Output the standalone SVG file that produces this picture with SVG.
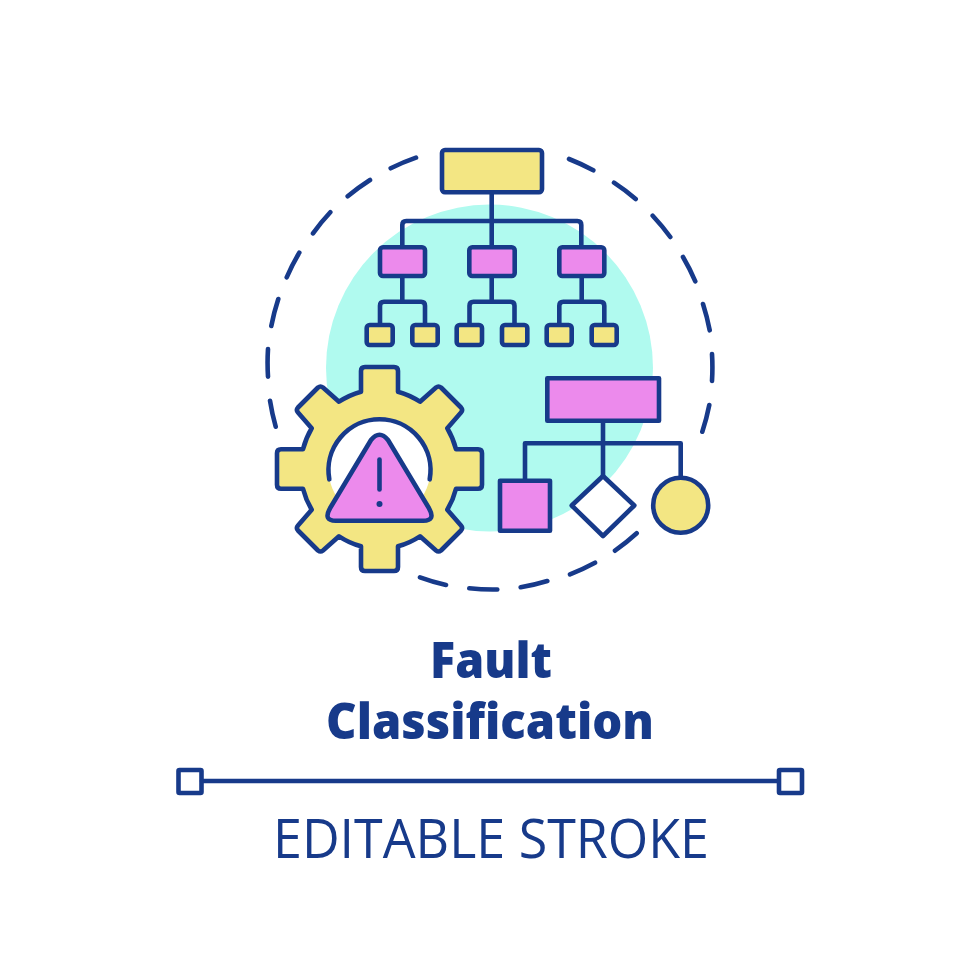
<svg xmlns="http://www.w3.org/2000/svg" width="980" height="980" viewBox="0 0 980 980">
<style>
.s{stroke:#173a8a;stroke-width:4.6;stroke-linejoin:round;stroke-linecap:round;fill:none}
.y{fill:#f3e683}.p{fill:#ec8aec}.w{fill:#fff}
.t{font-family:"Open Sans","Noto Sans",sans-serif;fill:#173a8a;text-anchor:middle}
.b{font-size:50px;font-weight:800}
.r{font-size:55px;font-weight:400}
</style>
<rect width="980" height="980" fill="#fff"/>
<circle id="backdrop" cx="489.5" cy="368" r="163.5" fill="#b0faef"/>
<g id="dashed-ring" class="s">
<path d="M416 157.7A222 222 0 0 0 390.7 168.3M370 180A222 222 0 0 0 347.7 196.3M330.3 212.3A222 222 0 0 0 313 233.3M299.3 252.7A222 222 0 0 0 286.7 277.3M278.3 299A222 222 0 0 0 271.3 326M268 349A222 222 0 0 0 268 376.7M270 400.7A222 222 0 0 0 275.7 426.7"/>
<path d="M569 159A222 222 0 0 1 593.3 170.3M614 182.7A222 222 0 0 1 635.7 199M652.7 215.7A222 222 0 0 1 670.3 237M683 257A222 222 0 0 1 695.3 281.3M703 304A222 222 0 0 1 709.7 330.3M712 354A222 222 0 0 1 712 381M709.3 405A222 222 0 0 1 702.3 431.7"/>
<path d="M420 577.3A222 222 0 0 0 446 585M469.3 588.3A222 222 0 0 0 497.3 589.5M520.7 587.3A222 222 0 0 0 547.3 581M570 574.3A222 222 0 0 0 595 562.7M615 550.7A222 222 0 0 0 636.7 533.3"/>
</g>
<g id="connectors" class="s">
<path d="M491.7 192V247M402.3 247V225Q402.3 221 406.3 221H577.3Q581.3 221 581.3 225V247"/>
<path d="M402.3 276V301.7M380 325V305.7Q380 301.7 384 301.7H421Q425 301.7 425 305.7V325"/>
<path d="M491.7 276V301.7M469.5 325V305.7Q469.5 301.7 473.5 301.7H510.5Q514.5 301.7 514.5 305.7V325"/>
<path d="M581.7 276V301.7M559.3 325V305.7Q559.3 301.7 563.3 301.7H600.3Q604.3 301.7 604.3 305.7V325"/>
<path d="M603 420.7V476M525 480.7V443.3H680.7V478"/>
</g>
<g id="root-node"><rect class="s y" x="442" y="150" width="100" height="42.3" rx="3"/></g>
<g id="branch-1"><rect class="s p" x="380" y="247.3" width="45" height="28.7" rx="3"/></g>
<g id="branch-2"><rect class="s p" x="469.3" y="247.3" width="45.4" height="28.7" rx="3"/></g>
<g id="branch-3"><rect class="s p" x="559.3" y="247.3" width="45" height="28.7" rx="3"/></g>
<g id="leaf-1"><rect class="s y" x="366.7" y="325" width="26" height="20" rx="3"/></g>
<g id="leaf-2"><rect class="s y" x="412.3" y="325" width="25.4" height="20" rx="3"/></g>
<g id="leaf-3"><rect class="s y" x="456.7" y="325" width="25.3" height="20" rx="3"/></g>
<g id="leaf-4"><rect class="s y" x="502" y="325" width="25.3" height="20" rx="3"/></g>
<g id="leaf-5"><rect class="s y" x="546.7" y="325" width="25" height="20" rx="3"/></g>
<g id="leaf-6"><rect class="s y" x="591.7" y="325" width="25" height="20" rx="3"/></g>
<g id="flow-head"><rect class="s p" x="547.3" y="378.3" width="111.7" height="42.4"/></g>
<g id="flow-square"><rect class="s p" x="500" y="480.7" width="50" height="50"/></g>
<g id="flow-diamond"><path class="s w" d="M603 476L634.3 505.5L603 536L571.7 505.5Z"/></g>
<g id="flow-circle"><circle class="s y" cx="680.7" cy="505.3" r="27.5"/></g>
<g id="gear">
<path class="s y" d="M361 391.7V371Q361 367 365 367H394Q398 367 398 371V391.7A79 79 0 0 1 420 401.7L436 387.5Q438.5 385.5 441 387.5L461 407.5Q463.2 410 461 412.5L447.3 428.3A79 79 0 0 1 456 449.3H478Q482 449.3 482 453.3V484.7Q482 488.7 478 488.7H456A79 79 0 0 1 447.3 509.7L461 525.5Q463.2 528 461 530.5L441 550.5Q438.5 552.5 436 550.5L420 536.3A79 79 0 0 1 398 546.3V567Q398 571 394 571H365Q361 571 361 567V546.3A79 79 0 0 1 339 536.3L323 550.5Q320.5 552.5 318 550.5L298 530.5Q295.8 528 298 525.5L311.7 509.7A79 79 0 0 1 303 488.7H281Q277 488.7 277 484.7V453.3Q277 449.3 281 449.3H303A79 79 0 0 1 311.7 428.3L298 412.5Q295.8 410 298 407.5L318 387.5Q320.5 385.5 323 387.5L339 401.7A79 79 0 0 1 361 391.7Z"/>
<circle class="w" cx="379.5" cy="469" r="51"/>
<path class="s" d="M329.3 479.3A51 51 0 1 1 429.7 479.3"/>
</g>
<g id="warning-triangle">
<path class="s p" d="M371 440Q379.5 429.5 388 440L429 508.3Q436 520.7 423.3 520.7H335.7Q323 520.7 330 508.3Z"/>
<path class="s" d="M379.5 459.5V489.5"/>
<circle cx="379.5" cy="504" r="3" fill="#173a8a"/>
</g>
<text class="t b" x="491" y="678" textLength="122" lengthAdjust="spacingAndGlyphs">Fault</text>
<text class="t b" x="490" y="739" textLength="328" lengthAdjust="spacingAndGlyphs">Classification</text>
<g id="stroke-bar" class="s">
<path d="M202 781H778"/>
<rect x="178.5" y="770" width="23" height="23" rx="1"/>
<rect x="779" y="770" width="23" height="23" rx="1"/>
</g>
<text class="t r" x="491" y="858" textLength="436" lengthAdjust="spacingAndGlyphs">EDITABLE STROKE</text>
</svg>
